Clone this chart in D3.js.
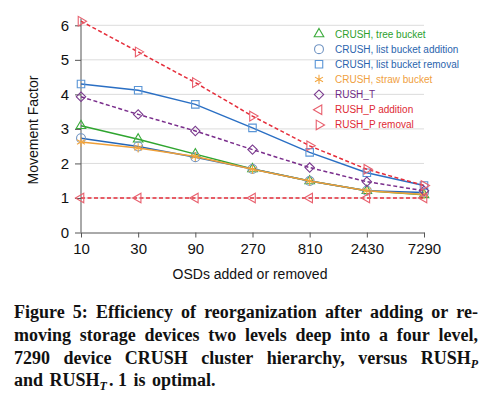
<!DOCTYPE html>
<html>
<head>
<meta charset="utf-8">
<script src="https://cdn.jsdelivr.net/npm/d3@7"></script>
<style>
  body { margin: 0; background: #fff; }
  svg { display: block; }
</style>
</head>
<body>
<div id="chart"></div>
<script>
// x categories (number of OSDs added or removed)
const categories = ['10', '30', '90', '270', '810', '2430', '7290'];

// movement factor per series
const treeBucket     = [3.09, 2.70, 2.27, 1.84, 1.49, 1.21, 1.09];
const listAddition   = [2.73, 2.49, 2.18, 1.84, 1.49, 1.21, 1.16];
const listRemoval    = [4.30, 4.12, 3.71, 3.03, 2.32, 1.73, 1.36];
const strawBucket    = [2.62, 2.45, 2.20, 1.83, 1.49, 1.21, 1.10];
const rushT          = [3.93, 3.42, 2.94, 2.40, 1.88, 1.47, 1.21];
const rushPAddition  = [1.00, 1.00, 1.00, 1.00, 1.00, 1.00, 1.00];
const rushPRemoval   = [6.12, 5.23, 4.34, 3.37, 2.51, 1.83, 1.36];

const seriesNames = [
  'CRUSH, tree bucket',
  'CRUSH, list bucket addition',
  'CRUSH, list bucket removal',
  'CRUSH, straw bucket',
  'RUSH_T',
  'RUSH_P addition',
  'RUSH_P removal'
];
const yTicks = [0, 1, 2, 3, 4, 5, 6];

const W = 491, H = 400;
const svg = d3.select('#chart').append('svg')
  .attr('width', W).attr('height', H)
  .style('font-family', 'Liberation Sans, Arial, Helvetica, sans-serif');

const x = d3.scalePoint().domain(categories).range([81, 424]);
const y = d3.scaleLinear().domain([0, 6]).range([232.5, 25.3]);

// style per series: line colour, marker colour, dash, marker kind
const styles = [
  { line: '#2fa52f', mark: '#3aaa3a', text: '#2ea02e', dash: null, kind: 'triUp' },
  { line: '#2466b8', mark: '#6f93c2', text: '#2a64ad', dash: null, kind: 'circle' },
  { line: '#2a6fc4', mark: '#5a95d6', text: '#2a64ad', dash: null, kind: 'square' },
  { line: '#f0a038', mark: '#f2a640', text: '#f0a040', dash: null, kind: 'star' },
  { line: '#7a2e8c', mark: '#7a3a8e', text: '#702a85', dash: '4,2.5', kind: 'diamond' },
  { line: '#e52d3a', mark: '#e8606e', text: '#de2a35', dash: '4,2.5', kind: 'triLeft' },
  { line: '#e52d3a', mark: '#e8606e', text: '#de2a35', dash: '4,2.5', kind: 'triRight' }
];
const allValues = [treeBucket, listAddition, listRemoval, strawBucket, rushT, rushPAddition, rushPRemoval];

const series = seriesNames.map((name, i) => ({
  name, style: styles[i],
  points: categories.map((c, j) => ({ c, v: allValues[i][j] }))
}));

// gridlines
svg.append('g').selectAll('line').data(yTicks.filter(t => t > 0)).join('line')
  .attr('x1', x.range()[0]).attr('x2', x.range()[1])
  .attr('y1', d => y(d)).attr('y2', d => y(d))
  .attr('stroke', '#dcdcdc').attr('stroke-width', 1);

// y axis
const yAxis = svg.append('g').attr('transform', `translate(${x.range()[0]},0)`)
  .call(d3.axisLeft(y).tickValues(yTicks).tickSize(6).tickPadding(6).tickFormat(d3.format('d')));
yAxis.select('.domain').remove();
yAxis.append('line').attr('x1', 0).attr('x2', 0)
  .attr('y1', y(0)).attr('y2', y(6.2)).attr('stroke', '#555');
yAxis.selectAll('.tick line').attr('stroke', '#555');
yAxis.selectAll('.tick text').attr('fill', '#111').style('font-size', '15px')
  .style('font-family', 'Liberation Sans, Arial, sans-serif');

// x axis
const xAxis = svg.append('g').attr('transform', `translate(0,${y(0)})`)
  .call(d3.axisBottom(x).tickSize(5).tickSizeOuter(0).tickPadding(6));
xAxis.select('.domain').attr('stroke', '#555');
xAxis.selectAll('.tick line').attr('stroke', '#555');
xAxis.selectAll('.tick text').attr('fill', '#111').style('font-size', '15px')
  .style('font-family', 'Liberation Sans, Arial, sans-serif');

// axis titles
svg.append('text').attr('x', 250).attr('y', 279).attr('text-anchor', 'middle')
  .style('font-size', '14px').attr('fill', '#111').text('OSDs added or removed');
svg.append('text').attr('transform', 'translate(38,130) rotate(-90)')
  .attr('text-anchor', 'middle').style('font-size', '14px').attr('fill', '#111')
  .text('Movement Factor');

// markers
function markerPath(kind) {
  switch (kind) {
    case 'triUp':    return d3.symbol(d3.symbolTriangle, 40)();
    case 'triLeft':  return d3.symbol(d3.symbolTriangle, 40)();
    case 'triRight': return d3.symbol(d3.symbolTriangle, 40)();
    case 'circle':   return d3.symbol(d3.symbolCircle, 62)();
    case 'square':   return d3.symbol(d3.symbolSquare, 56)();
    case 'star':     return d3.symbol(d3.symbolAsterisk, 60)();
    case 'diamond':  return d3.symbol(d3.symbolSquare, 44)();
  }
}
function markerRotate(kind) {
  if (kind === 'triLeft') return -90;
  if (kind === 'triRight') return 90;
  if (kind === 'diamond') return 45;
  return 0;
}

const line = d3.line().x(d => x(d.c)).y(d => y(d.v));

const sg = svg.append('g').selectAll('g').data(series).join('g');
sg.append('path')
  .attr('d', d => line(d.points))
  .attr('fill', 'none')
  .attr('stroke', d => d.style.line)
  .attr('stroke-width', 1.5)
  .attr('stroke-dasharray', d => d.style.dash);
sg.each(function (s) {
  d3.select(this).selectAll('path.mk').data(s.points).join('path')
    .attr('class', 'mk')
    .attr('d', markerPath(s.style.kind))
    .attr('transform', d => `translate(${x(d.c)},${y(d.v)}) rotate(${markerRotate(s.style.kind)})`)
    .attr('fill', 'none')
    .attr('stroke', s.style.mark)
    .attr('stroke-width', 1.1);
});

// legend
const lg = svg.append('g').selectAll('g').data(series).join('g')
  .attr('transform', (d, i) => `translate(319,${37.5 + i * 15.15})`);
lg.append('path')
  .attr('d', d => markerPath(d.style.kind))
  .attr('transform', d => `translate(0,-3.5) rotate(${markerRotate(d.style.kind)})`)
  .attr('fill', 'none').attr('stroke', d => d.style.mark).attr('stroke-width', 1.1);
lg.append('text').attr('x', 16).attr('y', 0)
  .style('font-size', '10px').attr('fill', d => d.style.text).text(d => d.name);

// caption (justified, bold serif)
const captionLines = [
  { justify: true, words: [['Figure'], ['5:'], ['Efficiency'], ['of'], ['reorganization'], ['after'], ['adding'], ['or'], ['re-']] },
  { justify: true, words: [['moving'], ['storage'], ['devices'], ['two'], ['levels'], ['deep'], ['into'], ['a'], ['four'], ['level,']] },
  { justify: true, words: [['7290'], ['device'], ['CRUSH'], ['cluster'], ['hierarchy,'], ['versus'], ['RUSH', 'P']] },
  { justify: false, words: [['and'], ['RUSH', 'T', '.'], ['1'], ['is'], ['optimal.']] }
];
const capLeft = 14, capRight = 478;
const cap = svg.append('g')
  .style('font-family', 'Liberation Serif, Times New Roman, serif')
  .style('font-weight', 'bold').style('font-size', '18px').attr('fill', '#111');

captionLines.forEach((ln, li) => {
  const baseY = 318.3 + li * 22.7;
  const nodes = ln.words.map(parts => {
    const t = cap.append('text').attr('y', baseY);
    t.append('tspan').text(parts[0]);
    if (parts.length > 1) {
      t.append('tspan').text(parts[1]).attr('dy', 4)
        .style('font-size', '12px').style('font-style', 'italic');
      if (parts.length > 2) t.append('tspan').text(parts[2]).attr('dx', 2).attr('dy', -4);
    }
    return t;
  });
  const widths = nodes.map(n => n.node().getComputedTextLength());
  const total = d3.sum(widths);
  const gap = ln.justify ? (capRight - capLeft - total) / (nodes.length - 1) : 6.5;
  let cx = capLeft;
  nodes.forEach((n, i) => { n.attr('x', cx); cx += widths[i] + gap; });
});
</script>
</body>
</html>
